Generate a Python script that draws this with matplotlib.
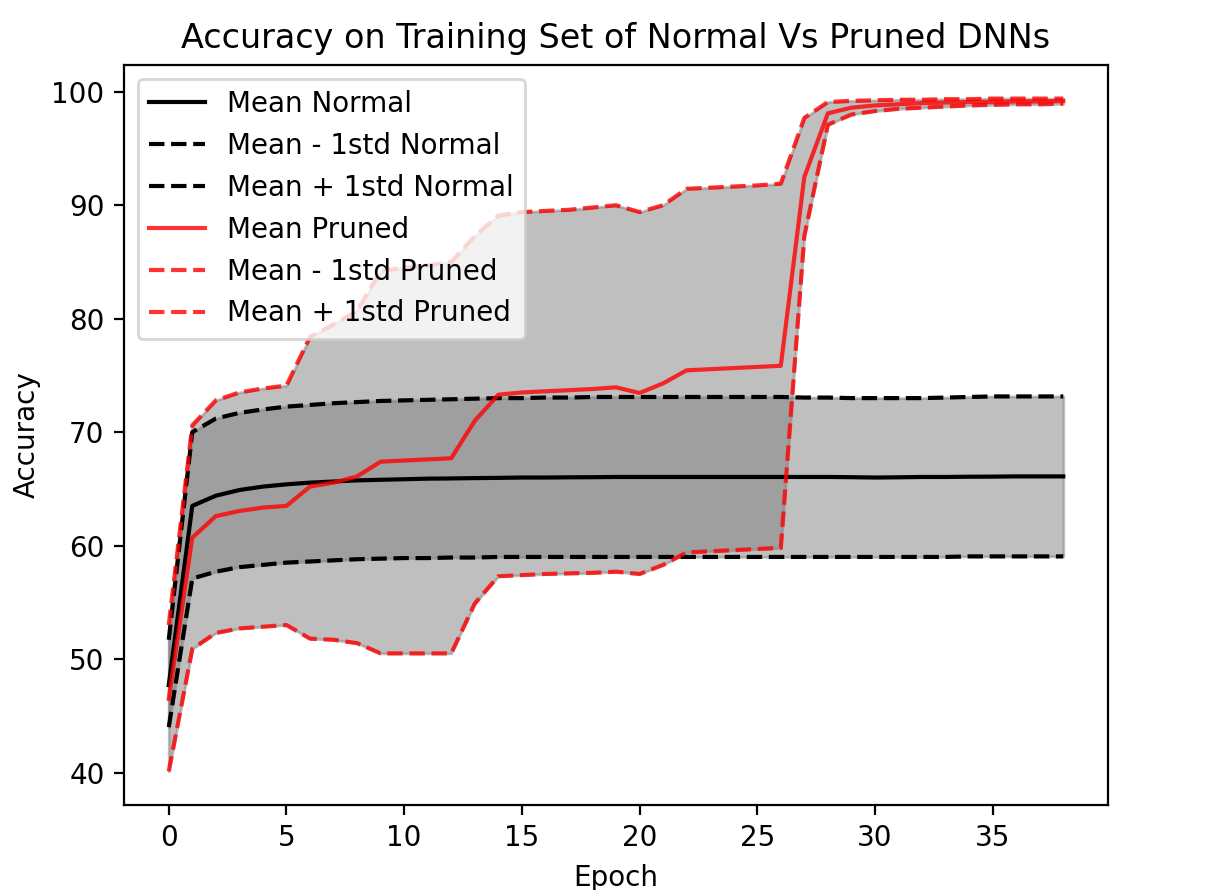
import numpy as np
import matplotlib
matplotlib.use("Agg")
import matplotlib.pyplot as plt

# Werte (Epoche 0..38)
epochs = list(range(39))

mean_normal = [47.7, 63.5, 64.4, 64.9, 65.2, 65.4, 65.55, 65.65, 65.75, 65.8,
               65.85, 65.9, 65.92, 65.95, 65.97, 66.0, 66.0, 66.02, 66.03, 66.05,
               66.05, 66.05, 66.05, 66.05, 66.05, 66.05, 66.05, 66.05, 66.05, 66.03,
               66.0, 66.02, 66.05, 66.05, 66.07, 66.08, 66.1, 66.1, 66.1]
upper_normal = [51.7, 70.0, 71.2, 71.7, 72.0, 72.25, 72.4, 72.55, 72.65, 72.75,
                72.8, 72.85, 72.9, 72.95, 73.0, 73.0, 73.05, 73.05, 73.1, 73.1,
                73.1, 73.1, 73.1, 73.1, 73.1, 73.1, 73.1, 73.05, 73.05, 73.0,
                73.0, 73.0, 73.0, 73.05, 73.1, 73.15, 73.15, 73.15, 73.15]
lower_normal = [44.0, 57.1, 57.7, 58.1, 58.3, 58.5, 58.6, 58.7, 58.8, 58.85,
                58.9, 58.9, 58.95, 58.95, 59.0, 59.0, 59.0, 59.0, 59.0, 59.0,
                59.0, 59.0, 59.0, 59.0, 59.0, 59.0, 59.0, 59.0, 59.0, 59.0,
                59.0, 59.0, 59.0, 59.0, 59.05, 59.05, 59.05, 59.05, 59.05]

mean_pruned = [46.5, 60.7, 62.6, 63.05, 63.35, 63.5, 65.2, 65.55, 66.1, 67.4,
               67.5, 67.6, 67.7, 71.0, 73.3, 73.5, 73.6, 73.7, 73.8, 73.95,
               73.45, 74.3, 75.45, 75.55, 75.65, 75.75, 75.85, 92.5, 98.1, 98.6,
               98.8, 98.9, 99.0, 99.05, 99.1, 99.1, 99.15, 99.15, 99.2]
upper_pruned = [53.0, 70.6, 72.8, 73.5, 73.85, 74.1, 78.4, 79.5, 80.7, 84.2,
                84.5, 84.7, 85.0, 87.3, 89.1, 89.4, 89.5, 89.6, 89.8, 90.0,
                89.4, 90.0, 91.45, 91.55, 91.65, 91.75, 91.9, 97.7, 99.1, 99.2,
                99.25, 99.3, 99.3, 99.35, 99.35, 99.4, 99.4, 99.4, 99.4]
lower_pruned = [40.1, 50.9, 52.3, 52.7, 52.85, 53.0, 51.8, 51.7, 51.4, 50.5,
                50.5, 50.5, 50.5, 54.9, 57.3, 57.4, 57.5, 57.55, 57.6, 57.7,
                57.5, 58.3, 59.4, 59.5, 59.6, 59.7, 59.8, 87.3, 97.1, 98.0,
                98.3, 98.5, 98.6, 98.7, 98.8, 98.85, 98.9, 98.9, 98.95]

fig = plt.figure(figsize=(6.05, 4.45), dpi=200)
fig.subplots_adjust(left=0.1025, right=0.9157, bottom=0.0955, top=0.927)

plt.plot(epochs, mean_normal, color="black", label="Mean Normal")
plt.plot(epochs, lower_normal, "--", color="black", label="Mean - 1std Normal")
plt.plot(epochs, upper_normal, "--", color="black", label="Mean + 1std Normal")
plt.fill_between(epochs, lower_normal, upper_normal, color="gray", alpha=0.5)

plt.plot(epochs, mean_pruned, color="red", alpha=0.8, label="Mean Pruned")
plt.plot(epochs, lower_pruned, "--", color="red", alpha=0.8, label="Mean - 1std Pruned")
plt.plot(epochs, upper_pruned, "--", color="red", alpha=0.8, label="Mean + 1std Pruned")
plt.fill_between(epochs, lower_pruned, upper_pruned, color="gray", alpha=0.5)

plt.title("Accuracy on Training Set of Normal Vs Pruned DNNs")
plt.xlabel("Epoch")
plt.ylabel("Accuracy")
plt.legend(loc="upper left")
plt.savefig("out.png")
